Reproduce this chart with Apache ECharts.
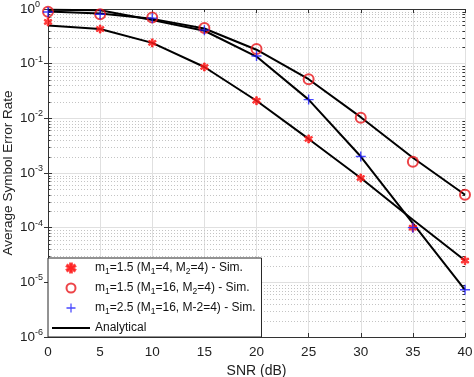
<!DOCTYPE html>
<html>
<head>
<meta charset="utf-8">
<script src="https://cdn.jsdelivr.net/npm/echarts@6/dist/echarts.min.js"></script>
<style>
  html, body { margin: 0; padding: 0; background: #fff; }
  #chart { width: 474px; height: 377px; }
</style>
</head>
<body>
<div id="chart"></div>
<script>
// SNR points (dB)
var snr = [0, 5, 10, 15, 20, 25, 30, 35, 40];

// simulated SER
var simA = [0.58, 0.43, 0.24, 0.087, 0.021, 0.0042, 0.00081, 0.0001, 0.000025];
var simB = [0.89, 0.8, 0.7, 0.45, 0.185, 0.052, 0.0102, 0.0016, 0.0004];
var simC = [0.88, 0.8, 0.68, 0.41, 0.138, 0.022, 0.002, 0.0001, 0.0000073];

// analytical curves
var anaA = [0.5, 0.43, 0.24, 0.087, 0.021, 0.0042, 0.00081, 0.00014, 0.000025];
var anaB = [0.9, 0.83, 0.66, 0.44, 0.18, 0.052, 0.0105, 0.0019, 0.0004];
var anaC = [0.97, 0.95, 0.63, 0.4, 0.135, 0.022, 0.002, 0.00012, 0.0000073];

var legendNames = [
    'm1=1.5 (M1=4, M2=4) - Sim.',
    'm1=1.5 (M1=16, M2=4) - Sim.',
    'm1=2.5 (M1=16, M-2=4) - Sim.',
    'Analytical'
];
var legendRich = {};
legendRich[legendNames[0]] = 'm{s|1}=1.5 (M{s|1}=4, M{s|2}=4) - Sim.';
legendRich[legendNames[1]] = 'm{s|1}=1.5 (M{s|1}=16, M{s|2}=4) - Sim.';
legendRich[legendNames[2]] = 'm{s|1}=2.5 (M{s|1}=16, M-2=4) - Sim.';
legendRich[legendNames[3]] = 'Analytical';

var font = 'Liberation Sans';

function pairs(xs, ys) {
    return xs.map(function (x, i) { return [x, ys[i]]; });
}

// minor grid / ticks at 2..9 of every decade
var minorGrid = [];
for (var d = -6; d < 0; d++) {
    for (var k = 2; k <= 9; k++) {
        minorGrid.push([0, k * Math.pow(10, d)]);
    }
}

var asterisk = 'path://M4,0h2v3.3l2.9-1.7l1,1.7l-2.9,1.7l2.9,1.7l-1,1.7l-2.9-1.7v3.3h-2v-3.3l-2.9,1.7l-1-1.7l2.9-1.7l-2.9-1.7l1-1.7l2.9,1.7z';
var plus = 'path://M4.3,0h1.4v4.3h4.3v1.4h-4.3v4.3h-1.4v-4.3h-4.3v-1.4h4.3z';
var lineIcon = 'path://M0,0h38v2h-38z';

function expLabel(v) {
    var e = Math.round(Math.log10(v));
    return '{b|10}{sup|' + e + '}';
}

var myChart = echarts.init(document.getElementById('chart'));

var option = {
    animation: false,
    textStyle: { fontFamily: font },
    grid: { left: 48, right: 9, top: 9, bottom: 40, containLabel: false, outerBoundsMode: 'none' },
    legend: {
        data: [
            { name: legendNames[0], icon: asterisk },
            { name: legendNames[1] },
            { name: legendNames[2], icon: plus },
            { name: legendNames[3], icon: lineIcon }
        ],
        orient: 'vertical',
        left: 48,
        bottom: 40,
        padding: [4, 6, 3, 4],
        itemGap: 6,
        itemWidth: 38,
        itemHeight: 9,
        backgroundColor: '#fff',
        borderColor: '#262626',
        borderWidth: 1,
        borderRadius: 0,
        formatter: function (name) { return legendRich[name]; },
        textStyle: {
            fontFamily: font,
            fontSize: 12,
            color: '#111',
            rich: {
                s: { fontSize: 8.5, padding: [7, 0, 0, 0], fontFamily: font, color: '#111' }
            }
        }
    },
    xAxis: [
        {
            type: 'value',
            min: 0, max: 40, interval: 5,
            name: 'SNR (dB)',
            nameLocation: 'middle',
            nameGap: 27,
            nameMoveOverlap: false,
            nameTextStyle: { fontSize: 14, color: '#222', fontFamily: font },
            axisLine: { lineStyle: { color: '#333' } },
            axisTick: { inside: true, length: 4, lineStyle: { color: '#333' } },
            axisLabel: { fontSize: 13.5, color: '#222', margin: 8, fontFamily: font },
            splitLine: { show: true, lineStyle: { color: '#e0e0e0', width: 1 } }
        },
        {
            type: 'value',
            position: 'top',
            min: 0, max: 40, interval: 5,
            axisLine: { show: true, lineStyle: { color: '#333' } },
            axisTick: { inside: true, length: 4, lineStyle: { color: '#333' } },
            axisLabel: { show: false },
            splitLine: { show: false }
        }
    ],
    yAxis: [
        {
            type: 'log',
            logBase: 10,
            min: 1e-6, max: 1,
            name: 'Average Symbol Error Rate',
            nameLocation: 'middle',
            nameGap: 33,
            nameMoveOverlap: false,
            nameTextStyle: { fontSize: 13.5, color: '#222', fontFamily: font },
            axisLine: { show: true, lineStyle: { color: '#333' } },
            axisTick: { inside: true, length: 4, lineStyle: { color: '#333' } },
            axisLabel: {
                formatter: expLabel,
                color: '#222',
                margin: 28,
                align: 'left',
                fontFamily: font,
                fontSize: 13.5,
                rich: {
                    b: { fontSize: 13.5, fontFamily: font, color: '#222' },
                    sup: { fontSize: 9, fontFamily: font, padding: [0, 0, 9, 0], color: '#222' }
                }
            },
            splitLine: { show: true, lineStyle: { color: '#e0e0e0', width: 1 } }
        },
        {
            type: 'log',
            logBase: 10,
            min: 1e-6, max: 1,
            position: 'right',
            axisLine: { show: true, lineStyle: { color: '#333' } },
            axisTick: { inside: true, length: 4, lineStyle: { color: '#333' } },
            axisLabel: { show: false },
            splitLine: { show: false }
        }
    ],
    series: [
        {
            // dotted minor grid and small ticks on both y edges
            type: 'custom',
            silent: true,
            z: 1,
            clip: true,
            data: minorGrid,
            renderItem: function (params, api) {
                var v = api.value(1);
                var p0 = api.coord([0, v]);
                var p1 = api.coord([40, v]);
                var y = Math.round(p0[1]) + 0.5;
                return {
                    type: 'group',
                    children: [
                        {
                            type: 'line',
                            shape: { x1: p0[0], y1: y, x2: p1[0], y2: y },
                            style: { stroke: '#c4c4c4', lineWidth: 1, lineDash: [1, 2] }
                        },
                        {
                            type: 'line',
                            shape: { x1: p0[0], y1: y, x2: p0[0] + 2.5, y2: y },
                            style: { stroke: '#333', lineWidth: 1 }
                        },
                        {
                            type: 'line',
                            shape: { x1: p1[0] - 2.5, y1: y, x2: p1[0], y2: y },
                            style: { stroke: '#333', lineWidth: 1 }
                        }
                    ]
                };
            }
        },
        {
            name: 'Analytical',
            type: 'line',
            data: pairs(snr, anaA),
            symbol: 'none',
            z: 3,
            lineStyle: { color: '#000', width: 2 },
            itemStyle: { color: '#000' }
        },
        {
            name: 'Analytical',
            type: 'line',
            data: pairs(snr, anaB),
            symbol: 'none',
            z: 3,
            lineStyle: { color: '#000', width: 2 },
            itemStyle: { color: '#000' }
        },
        {
            name: 'Analytical',
            type: 'line',
            data: pairs(snr, anaC),
            symbol: 'none',
            z: 3,
            lineStyle: { color: '#000', width: 2 },
            itemStyle: { color: '#000' }
        },
        {
            name: legendNames[0],
            type: 'scatter',
            data: pairs(snr, simA),
            symbol: asterisk,
            symbolSize: 8,
            z: 4,
            itemStyle: { color: '#ff1a1a', borderColor: '#ff1a1a', borderWidth: 1 }
        },
        {
            name: legendNames[1],
            type: 'scatter',
            data: pairs(snr, simB),
            symbol: 'circle',
            symbolSize: 10,
            z: 5,
            itemStyle: { color: 'rgba(0,0,0,0)', borderColor: '#e8161c', borderWidth: 2 }
        },
        {
            name: legendNames[2],
            type: 'scatter',
            data: pairs(snr, simC),
            symbol: plus,
            symbolSize: 10,
            z: 6,
            itemStyle: { color: '#1a1aff' }
        }
    ]
};

myChart.setOption(option);
</script>
</body>
</html>
